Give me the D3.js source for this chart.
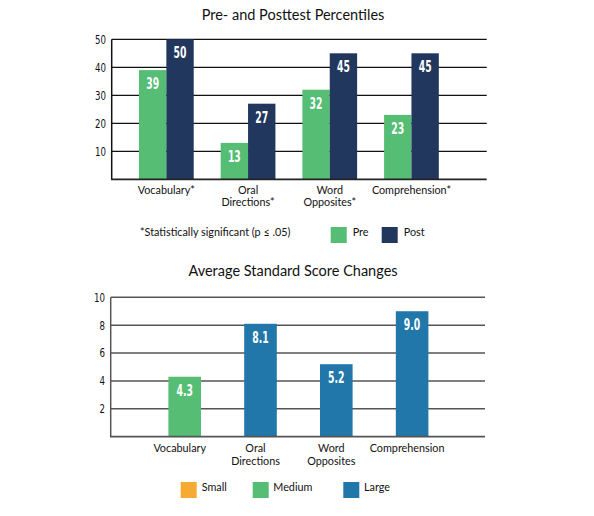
<!DOCTYPE html>
<html>
<head>
<meta charset="utf-8">
<title>Pre- and Posttest Percentiles</title>
<script src="https://d3js.org/d3.v7.min.js"></script>
<style>
    body { margin: 0; background: #fff; }
    .title { font-family: Lato, "Noto Sans", sans-serif; font-size: 14.5px; fill: #111; }
    .tick-label { font-family: "DejaVu Sans", sans-serif; font-size: 12px; fill: #111; }
    .cat-label, .note, .legend text { font-family: Lato, "Noto Sans", sans-serif; font-size: 10.8px; fill: #111; }
    .val { font-family: "DejaVu Sans", sans-serif; font-size: 15px; font-weight: bold; fill: #fff; }
</style>
</head>
<body>
<svg width="594" height="516"></svg>
<script>
// chart 1: pre / post percentiles
const topCats = [["Vocabulary*"], ["Oral", "Directions*"], ["Word", "Opposites*"], ["Comprehension*"]];
const preVals = [39, 13, 32, 23];
const postVals = [50, 27, 45, 45];
const topTicks = [10, 20, 30, 40, 50];
const seriesNames = ["Pre", "Post"];
const seriesColors = ["#55bd74", "#22375e"];

// chart 2: standard score changes
const botCats = [["Vocabulary"], ["Oral", "Directions"], ["Word", "Opposites"], ["Comprehension"]];
const changeVals = [4.3, 8.1, 5.2, 9.0];
const effectSize = ["Medium", "Large", "Large", "Large"];
const botTicks = [2, 4, 6, 8, 10];
const effectNames = ["Small", "Medium", "Large"];
const effectColors = ["#f7aa32", "#55bd74", "#2176aa"];

const svg = d3.select("svg");
const squeeze = 0.62; // narrow the numbers like the condensed face in the original

// ---------- top chart ----------
const t = svg.append("g");
const y1 = d3.scaleLinear().domain([0, 50]).range([179.3, 39.3]);
const x1 = d3.scaleBand().domain(d3.range(topCats.length))
    .range([125.5, 452.3]).paddingInner(0.33).paddingOuter(0.165);
const xs = d3.scaleBand().domain(seriesNames).range([0, x1.bandwidth()]);

t.append("text").attr("class", "title")
    .attr("x", 293).attr("y", 20).attr("text-anchor", "middle")
    .text("Pre- and Posttest Percentiles");

// gridlines
t.append("g").selectAll("line").data(topTicks).join("line")
    .attr("x1", 111.7).attr("x2", 486.7)
    .attr("y1", d => y1(d)).attr("y2", d => y1(d))
    .attr("stroke", "#111").attr("stroke-width", 1.2);

const topData = topCats.map((c, i) => ({i, vals: [preVals[i], postVals[i]]}));
const grp = t.append("g").selectAll("g").data(topData).join("g")
    .attr("transform", d => "translate(" + x1(d.i) + ",0)");
grp.selectAll("rect").data(d => d.vals.map((v, j) => ({v, s: seriesNames[j], c: seriesColors[j]})))
    .join("rect")
    .attr("x", d => xs(d.s)).attr("width", xs.bandwidth())
    .attr("y", d => y1(d.v)).attr("height", d => y1(0) - y1(d.v))
    .attr("fill", d => d.c);
grp.selectAll("text.val").data(d => d.vals.map((v, j) => ({v, s: seriesNames[j]})))
    .join("text").attr("class", "val")
    .attr("transform", d => "translate(" + (xs(d.s) + xs.bandwidth() / 2) + "," + (y1(d.v) + 19) + ") scale(" + squeeze + ",1)")
    .attr("text-anchor", "middle")
    .text(d => d.v);

// axes lines
t.append("line").attr("x1", 111.7).attr("x2", 111.7).attr("y1", 39.3).attr("y2", 179.3)
    .attr("stroke", "#111").attr("stroke-width", 1.5);
t.append("line").attr("x1", 111).attr("x2", 486.7).attr("y1", 179.3).attr("y2", 179.3)
    .attr("stroke", "#222").attr("stroke-width", 1.8);

t.append("g").selectAll("text").data(topTicks).join("text").attr("class", "tick-label")
    .attr("transform", d => "translate(106," + y1(d) + ") scale(" + (squeeze + 0.1) + ",1)")
    .attr("dy", "0.36em").attr("text-anchor", "end")
    .text(d => d);

t.append("g").selectAll("text").data(topData).join("text").attr("class", "cat-label")
    .attr("text-anchor", "middle")
    .attr("x", d => x1(d.i) + x1.bandwidth() / 2)
    .attr("y", 194)
    .selectAll("tspan").data(d => topCats[d.i]).join("tspan")
    .attr("x", function() { return this.parentNode.getAttribute("x"); })
    .attr("dy", (d, k) => k ? 12 : 0)
    .text(d => d);

t.append("text").attr("class", "note").attr("x", 140).attr("y", 236)
    .text("*Statistically significant (p \u2264 .05)");

const leg1 = t.append("g").attr("class", "legend").selectAll("g").data(seriesNames).join("g")
    .attr("transform", (d, i) => "translate(" + [330.7, 381.7][i] + ",227)");
leg1.append("rect").attr("width", 16).attr("height", 16).attr("fill", (d, i) => seriesColors[i]);
leg1.append("text").attr("x", 22).attr("y", 8.5).text(d => d);

// ---------- bottom chart ----------
const b = svg.append("g");
const y2 = d3.scaleLinear().domain([0, 10]).range([436.7, 297.3]);
const x2 = d3.scaleBand().domain(d3.range(botCats.length))
    .range([146.8, 450]).paddingInner(0.57).paddingOuter(0.285);
const colorOf = d3.scaleOrdinal().domain(effectNames).range(effectColors);

b.append("text").attr("class", "title")
    .attr("x", 293).attr("y", 276).attr("text-anchor", "middle")
    .text("Average Standard Score Changes");

b.append("g").selectAll("line").data(botTicks).join("line")
    .attr("x1", 110.7).attr("x2", 485)
    .attr("y1", d => y2(d)).attr("y2", d => y2(d))
    .attr("stroke", "#555").attr("stroke-width", 1.5);

b.append("g").selectAll("rect").data(changeVals).join("rect")
    .attr("x", (d, i) => x2(i)).attr("width", x2.bandwidth())
    .attr("y", d => y2(d)).attr("height", d => y2(0) - y2(d))
    .attr("fill", (d, i) => colorOf(effectSize[i]));
b.append("g").selectAll("text").data(changeVals).join("text").attr("class", "val")
    .attr("transform", (d, i) => "translate(" + (x2(i) + x2.bandwidth() / 2) + "," + (y2(d) + 19) + ") scale(" + squeeze + ",1)")
    .attr("text-anchor", "middle")
    .text(d => d3.format(".1f")(d));

b.append("line").attr("x1", 110.7).attr("x2", 110.7).attr("y1", 297.3).attr("y2", 436.7)
    .attr("stroke", "#555").attr("stroke-width", 1.5);
b.append("line").attr("x1", 110).attr("x2", 485).attr("y1", 436.7).attr("y2", 436.7)
    .attr("stroke", "#555").attr("stroke-width", 1.8);

b.append("g").selectAll("text").data(botTicks).join("text").attr("class", "tick-label")
    .attr("transform", d => "translate(105," + y2(d) + ") scale(" + (squeeze + 0.1) + ",1)")
    .attr("dy", "0.36em").attr("text-anchor", "end")
    .text(d => d);

b.append("g").selectAll("text").data(botCats).join("text").attr("class", "cat-label")
    .attr("text-anchor", "middle")
    .attr("x", (d, i) => x2(i) + x2.bandwidth() / 2 - 5)
    .attr("y", 452)
    .selectAll("tspan").data(d => d).join("tspan")
    .attr("x", function() { return this.parentNode.getAttribute("x"); })
    .attr("dy", (d, k) => k ? 12.5 : 0)
    .text(d => d);

const leg2 = b.append("g").attr("class", "legend").selectAll("g").data(effectNames).join("g")
    .attr("transform", (d, i) => "translate(" + [180.7, 252.7, 343.3][i] + ",482)");
leg2.append("rect").attr("width", 16).attr("height", 16).attr("fill", d => colorOf(d));
leg2.append("text").attr("x", (d, i) => [21, 20.6, 20.7][i]).attr("y", 8.5).text(d => d);
</script>
</body>
</html>
